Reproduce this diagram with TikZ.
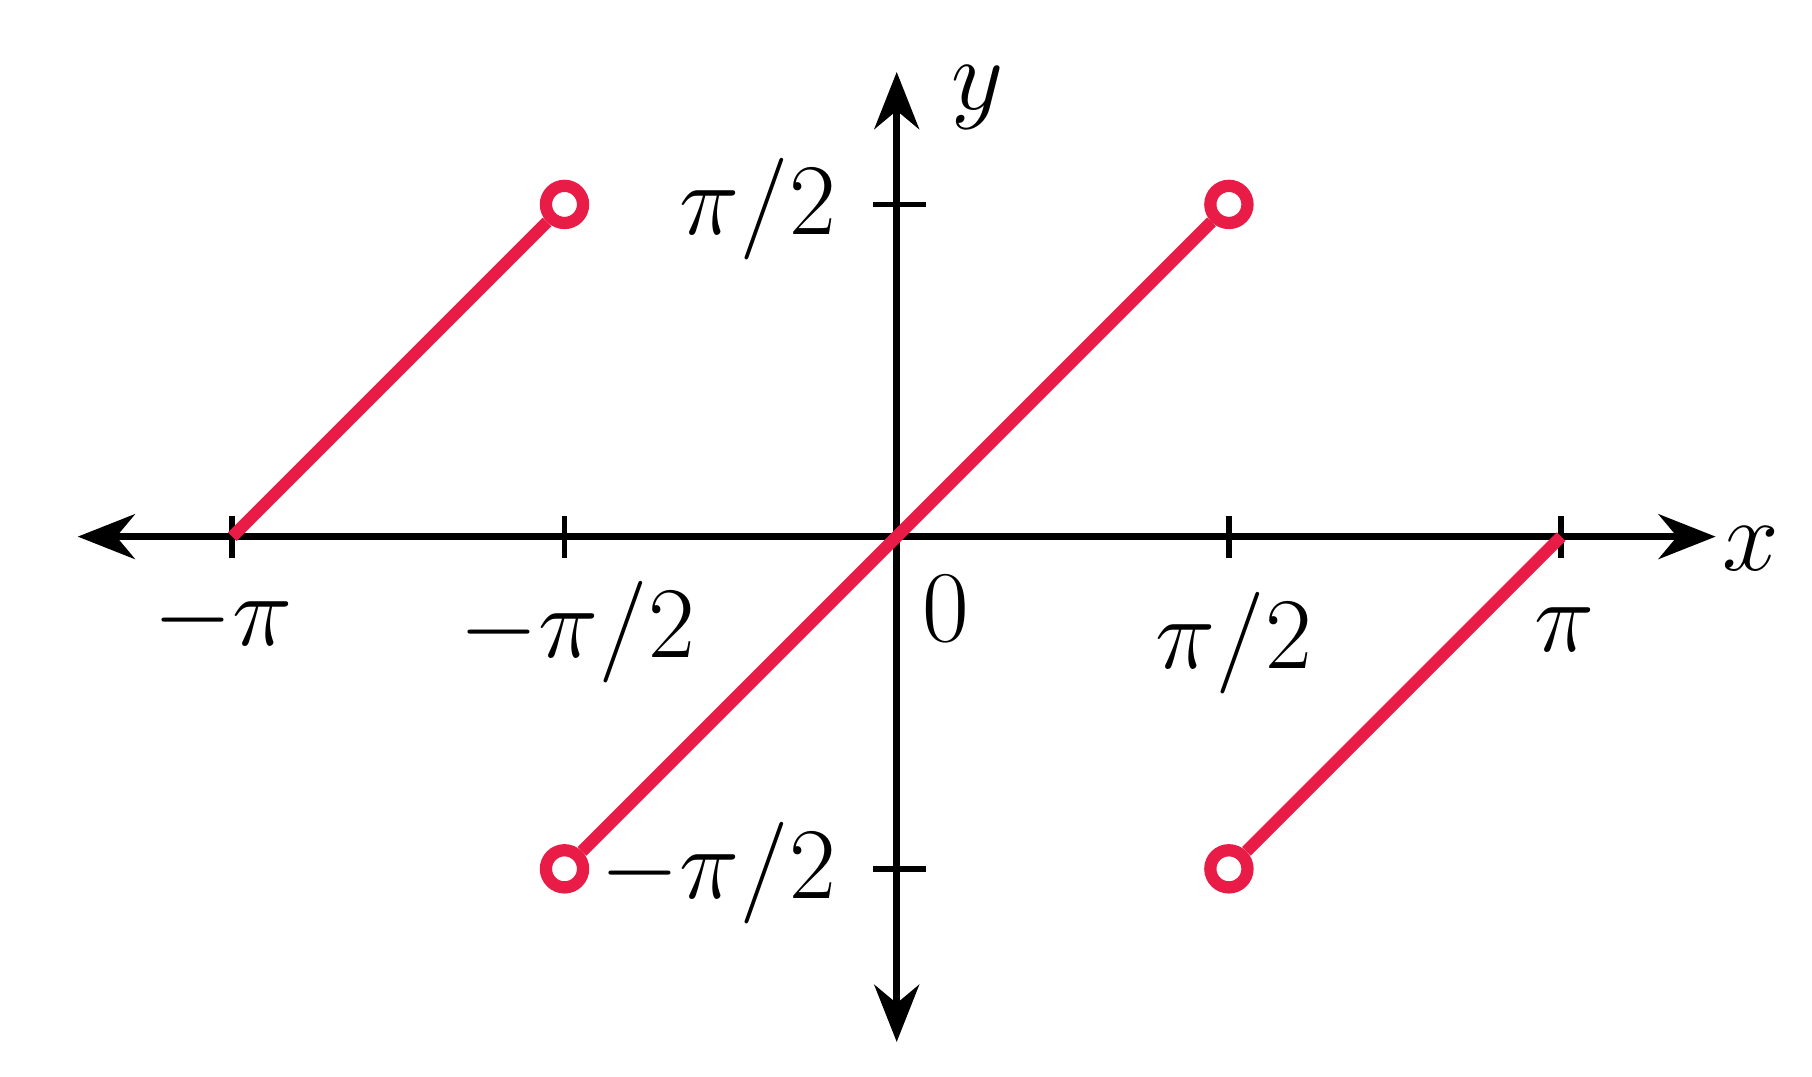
\documentclass[tikz,border=0pt]{standalone}
\usetikzlibrary{arrows.meta}
\begin{document}
\begin{tikzpicture}[
  axis/.style={line width=1.6pt,-{Stealth[length=14pt,width=11pt]}},
  seg/.style={line width=3pt,draw={rgb,255:red,232;green,28;blue,70}},
  open/.style={circle,draw={rgb,255:red,232;green,28;blue,70},line width=3pt,fill=white,inner sep=0pt,minimum size=0.32cm},
  lab/.style={font=\fontsize{26}{30}\selectfont}]
\useasboundingbox (-7.72,-4.65) rectangle (7.88,4.62);
\coordinate (O) at (0,0);
\coordinate (xl) at (-7.05,0); \coordinate (xr) at (7.05,0);
\coordinate (yb) at (0,-4.35); \coordinate (yt) at (0,4.0);
\draw[axis] (O) -- (xr);
\draw[axis] (O) -- (xl);
\draw[axis] (O) -- (yt);
\draw[axis] (O) -- (yb);
\foreach \x in {-5.72,-2.86,2.86,5.72} \draw[line width=1.4pt] (\x,0.18) -- (\x,-0.18);
\foreach \y in {-2.86,2.86} \draw[line width=1.4pt] (-0.2,\y) -- (0.25,\y);
\node[lab] at (-5.8,-0.72) {$-\pi$};
\node[lab] at (-2.75,-0.82) {$-\pi/2$};
\node[lab] at (0.42,-0.62) {$0$};
\node[lab] at (2.9,-0.92) {$\pi/2$};
\node[lab] at (5.75,-0.8) {$\pi$};
\node[lab,anchor=east] at (-0.4,2.82) {$\pi/2$};
\node[lab,anchor=east] at (-0.4,-2.9) {$-\pi/2$};
\node[lab] at (0.7,3.78) {$y$};
\node[lab] at (7.35,-0.1) {$x$};
\node[open] (a2) at (-2.86,2.86) {};
\node[open] (b1) at (-2.86,-2.86) {};
\node[open] (b2) at (2.86,2.86) {};
\node[open] (c1) at (2.86,-2.86) {};
\coordinate (a1) at (-5.72,0); \coordinate (c2) at (5.72,0);
\draw[seg] (a1) -- (a2); \draw[seg] (b1) -- (b2); \draw[seg] (c1) -- (c2);
\end{tikzpicture}
\end{document}
